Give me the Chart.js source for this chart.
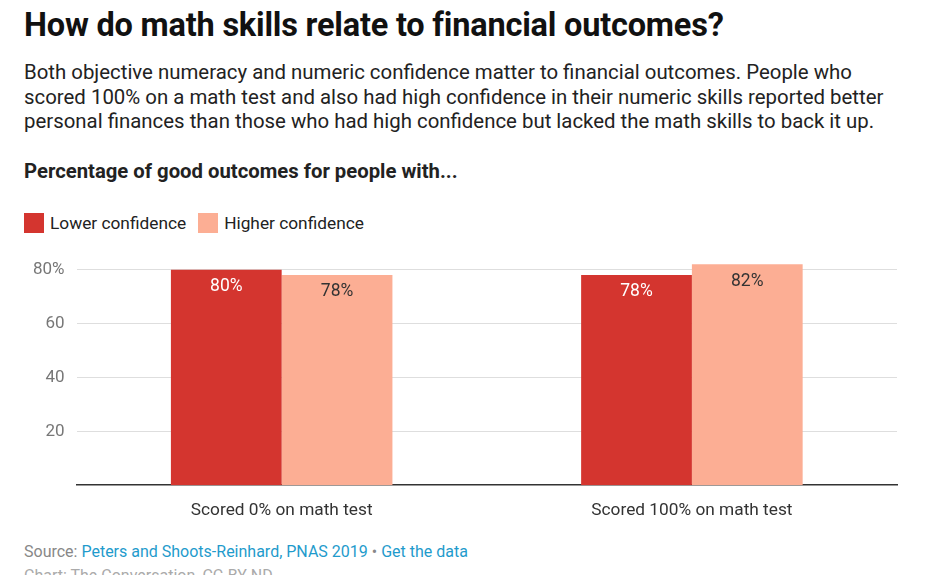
<!DOCTYPE html>
<html>
<head>
<meta charset="utf-8">
<script src="https://cdn.jsdelivr.net/npm/chart.js@4"></script>
<style>
  body { margin: 0; background: #fff; font-family: Roboto, "Liberation Sans", sans-serif; }
  #wrap { position: relative; width: 926px; height: 575px; overflow: hidden; }
  .abs { position: absolute; white-space: nowrap; }
  h1 { margin: 0; font-size: 32.5px; font-weight: 700; color: #111; letter-spacing: -0.2px; }
  .desc { font-size: 20.4px; line-height: 24.5px; color: #222; }
  .sub { font-size: 20.3px; font-weight: 700; color: #222; }
  .leg { font-size: 17.3px; color: #222; display: flex; align-items: center; }
  .sw { width: 20px; height: 20px; margin-right: 6px; }
  .src { font-size: 16px; color: #888; }
  .src a { color: #1f9bcc; text-decoration: none; }
  #c { position: absolute; left: 0; top: 234px; }
</style>
</head>
<body>
<div id="wrap">
  <h1 class="abs" style="left:24px; top:6px;">How do math skills relate to financial outcomes?</h1>
  <div class="abs desc" style="left:24px; top:60px;">Both objective numeracy and numeric confidence matter to financial outcomes. People who<br>scored 100% on a math test and also had high confidence in their numeric skills reported better<br>personal finances than those who had high confidence but lacked the math skills to back it up.</div>
  <div class="abs sub" style="left:24px; top:159px;">Percentage of good outcomes for people with...</div>
  <div class="abs leg" style="left:24px; top:213px;">
    <span class="sw" style="background:#d4352f"></span><span style="margin-right:12px">Lower confidence</span>
    <span class="sw" style="background:#fcae94"></span><span>Higher confidence</span>
  </div>
  <canvas id="c" width="926" height="294"></canvas>
  <div class="abs src" style="left:24px; top:542px;">Source: <a>Peters and Shoots-Reinhard, PNAS 2019</a> • <a>Get the data</a></div>
  <div class="abs src" style="left:24px; top:566px; color:#aaa;">Chart: The Conversation, CC-BY-ND</div>
</div>
<script>
const categories = ['Scored 0% on math test', 'Scored 100% on math test'];
const lowerConfidence = [80, 78];
const higherConfidence = [78, 82];
const yTicks = [20, 40, 60, 80];

// labels inside the top of each bar
const barLabels = {
  id: 'barLabels',
  afterDatasetsDraw(chart) {
    const ctx = chart.ctx;
    ctx.save();
    ctx.font = '17.5px Roboto';
    ctx.textAlign = 'center';
    ctx.textBaseline = 'middle';
    chart.data.datasets.forEach((ds, i) => {
      chart.getDatasetMeta(i).data.forEach((bar, j) => {
        ctx.fillStyle = i === 0 ? '#fff' : '#333';
        ctx.fillText(ds.data[j] + '%', bar.x, bar.y + 17);
      });
    });
    ctx.restore();
  }
};

new Chart(document.getElementById('c'), {
  type: 'bar',
  data: {
    labels: categories,
    datasets: [
      { label: 'Lower confidence', data: lowerConfidence, backgroundColor: '#d4352f' },
      { label: 'Higher confidence', data: higherConfidence, backgroundColor: '#fcae94' }
    ]
  },
  options: {
    responsive: false,
    animation: false,
    layout: { padding: { left: 21, right: 29, top: 5, bottom: 0 } },
    plugins: { legend: { display: false }, tooltip: { enabled: false } },
    datasets: { bar: { categoryPercentage: 0.54, barPercentage: 1 } },
    scales: {
      x: {
        grid: { display: false },
        border: { color: '#333', width: 1.5 },
        ticks: { color: '#333', font: { family: 'Roboto', size: 17.3 }, padding: 7 }
      },
      y: {
        min: 0,
        max: 85,
        afterBuildTicks: axis => { axis.ticks = yTicks.map(v => ({ value: v })); },
        border: { display: false },
        grid: { color: '#dedede', drawTicks: false },
        ticks: {
          color: '#777',
          font: { family: 'Roboto', size: 17 },
          padding: 12,
          callback: v => v === 80 ? v + '%' : v
        }
      }
    }
  },
  plugins: [barLabels]
});
</script>
</body>
</html>
